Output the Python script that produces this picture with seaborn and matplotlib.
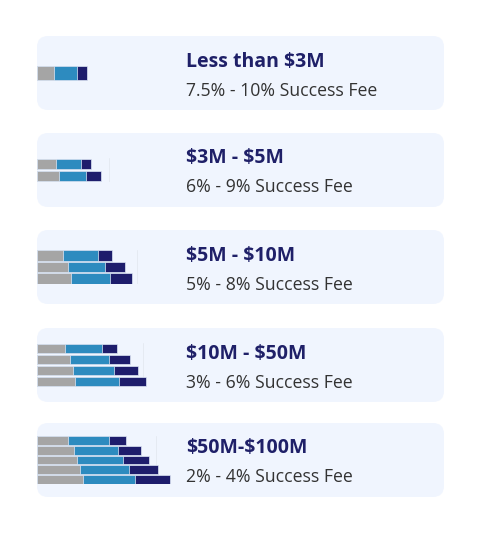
import numpy as np
import pandas as pd
import seaborn as sns
from matplotlib import pyplot as plt
from matplotlib.patches import FancyBboxPatch

# card texts
titles = ['Less than $3M', '$3M - $5M', '$5M - $10M', '$10M - $50M', '$50M-$100M']
subtitles = ['7.5% - 10% Success Fee', '6% - 9% Success Fee', '5% - 8% Success Fee',
             '3% - 6% Success Fee', '2% - 4% Success Fee']

# stacked segments of the small bar charts (one list per card, one value per row)
gray_vals = [[17], [19, 22], [26, 31, 34], [28, 33, 36, 38], [31, 37, 40, 43, 46]]
blue_vals = [[23], [25, 27], [35, 37, 39], [37, 39, 41, 44], [41, 44, 46, 49, 52]]
navy_vals = [[10], [10, 15], [14, 20, 22], [15, 21, 24, 27], [17, 23, 26, 29, 35]]

# layout in pixels
W, H = 483, 538
card_top = [36, 133, 230, 328, 423]
card_h = 74
card_x0, card_x1 = 37, 444
bar_pitch = [16, 12, 11.5, 11, 9.7]
bar_frac = [0.88, 0.9, 0.9, 0.9, 0.9]
tick_step = [None, 18, 25, 26, 29.3]
grid_at = [None, 72, 100, 106, 119]

GRAY = '#a5a5a5'
BLUE = '#2d8bbf'
NAVY = '#1e1d6c'
CARD = '#f0f5fe'

sns.set_style('white')
plt.rcParams['font.family'] = ['Open Sans', 'DejaVu Sans']
plt.rcParams['text.parse_math'] = False

fig = plt.figure(figsize=(W / 100, H / 100), dpi=100)
bg = fig.add_axes([0, 0, 1, 1])
bg.set_xlim(0, W)
bg.set_ylim(H, 0)
bg.axis('off')

for i in range(len(titles)):
    top = card_top[i]
    bg.add_patch(FancyBboxPatch((card_x0, top), card_x1 - card_x0, card_h,
                                boxstyle='round,pad=0,rounding_size=11',
                                fc=CARD, ec='none'))
    mid = top + card_h / 2
    bg.text(186, mid - 6.5, titles[i], fontsize=14, fontweight='bold',
            color='#1f2068', va='baseline', ha='left')
    bg.text(186, mid + 22.5, subtitles[i], fontsize=12.7, color='#333333',
            va='baseline', ha='left')

    # mini stacked bar chart
    n = len(gray_vals[i])
    rows = ['r%d' % k for k in range(n)]
    df = pd.DataFrame({'row': rows,
                       'gray': gray_vals[i],
                       'blue': blue_vals[i],
                       'navy': navy_vals[i]})
    df['gb'] = df['gray'] + df['blue']
    df['total'] = df['gb'] + df['navy']

    ah = n * bar_pitch[i]
    aw = 160
    ax = fig.add_axes([card_x0 / W, 1 - (mid + ah / 2) / H, aw / W, ah / H])
    for col, clr in [('total', NAVY), ('gb', BLUE), ('gray', GRAY)]:
        sns.barplot(data=df, x=col, y='row', color=clr, orient='h', ax=ax,
                    width=bar_frac[i], edgecolor='#dfe8f6', linewidth=0.5,
                    saturation=1)
    ax.set_xlim(0, aw)
    ax.set_ylim(n - 0.5, -0.5)
    ax.set_facecolor('none')
    for s in ax.spines.values():
        s.set_visible(False)
    ax.set_xlabel('')
    ax.set_ylabel('')
    ax.set_yticks([])
    if tick_step[i]:
        ax.set_xticks(np.arange(2, grid_at[i] + tick_step[i] * 1.5, tick_step[i]))
        ax.tick_params(axis='x', length=1.5, width=0.6, color='#d5dbe6',
                       labelbottom=False, pad=0)
        ax.axvline(grid_at[i], color='#e3e8f0', lw=0.6, zorder=0)
    else:
        ax.set_xticks([])

fig.savefig('out.png', dpi=100, facecolor='white')
